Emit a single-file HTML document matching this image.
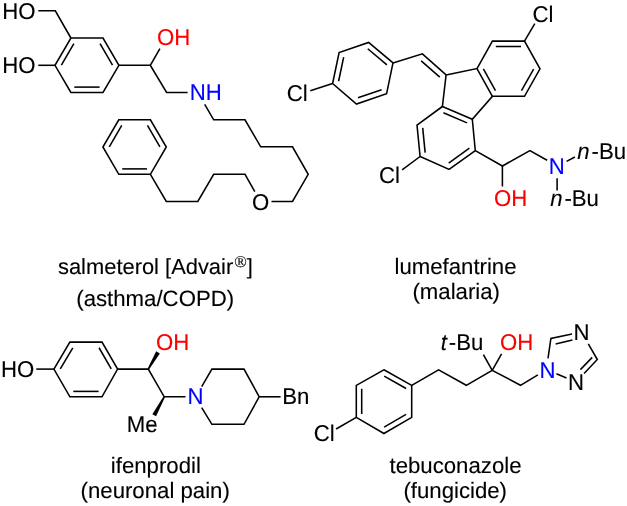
<!DOCTYPE html>
<html><head><meta charset="utf-8"><title>drugs</title>
<style>
html,body{margin:0;padding:0;background:#fff;}
svg{display:block;will-change:transform}
svg text{font-family:"Liberation Sans",sans-serif;font-size:22.2px;text-rendering:geometricPrecision;stroke-width:0.12px;stroke-linejoin:round;}
svg line,svg polyline,svg polygon{stroke:#000;stroke-width:1.55;fill:none;stroke-linecap:butt;stroke-linejoin:miter}
svg polygon.w{fill:#000;stroke:none}
</style></head><body>
<svg width="627" height="506" viewBox="0 0 627 506">
<rect x="0" y="0" width="627" height="506" fill="#fff" stroke="none"/>
<polygon points="70.90,38.00 103.00,38.00 118.90,65.30 103.00,92.50 70.90,92.50 55.00,65.30"/>
<line x1="61.38" y1="65.08" x2="73.86" y2="43.66" stroke-width="1.55"/>
<line x1="100.04" y1="43.66" x2="112.52" y2="65.08" stroke-width="1.55"/>
<line x1="99.60" y1="87.10" x2="74.30" y2="87.10" stroke-width="1.55"/>
<polyline points="70.90,38.00 55.30,10.80 38.30,10.80"/>
<text transform="translate(2.20 19.00) scale(1 1.03)" fill="#000" stroke="#000" text-anchor="start" >HO</text>
<line x1="55.00" y1="65.30" x2="38.30" y2="65.30" stroke-width="1.55"/>
<text transform="translate(2.20 73.00) scale(1 1.03)" fill="#000" stroke="#000" text-anchor="start" >HO</text>
<polyline points="118.90,65.30 150.30,65.30 166.60,92.50 187.60,92.50"/>
<line x1="150.30" y1="65.30" x2="159.90" y2="48.60" stroke-width="1.55"/>
<text transform="translate(157.10 45.30) scale(1 1.03)" fill="#ff0000" stroke="#ff0000" text-anchor="start" >OH</text>
<text transform="translate(189.70 100.00) scale(1 1.03)" fill="#0000ff" stroke="#0000ff" text-anchor="start" >NH</text>
<polyline points="204.70,104.40 213.70,119.80 245.00,119.80 260.70,146.80 292.50,146.80 308.20,174.30 292.50,201.50 271.50,201.50"/>
<text transform="translate(252.00 209.60) scale(1 1.03)" fill="#000" stroke="#000" text-anchor="start" >O</text>
<polyline points="254.80,191.70 245.00,174.30 213.70,174.30 197.80,201.50 166.30,201.50 150.40,174.30"/>
<polygon points="118.80,119.80 150.40,119.80 166.30,147.00 150.40,174.30 118.80,174.30 102.90,147.00"/>
<line x1="109.28" y1="146.79" x2="121.75" y2="125.46" stroke-width="1.55"/>
<line x1="147.45" y1="125.46" x2="159.92" y2="146.79" stroke-width="1.55"/>
<line x1="147.00" y1="168.90" x2="122.20" y2="168.90" stroke-width="1.55"/>
<polygon points="368.60,42.40 393.00,62.90 386.60,93.70 356.50,104.00 332.60,83.50 339.10,52.60"/>
<line x1="367.73" y1="48.72" x2="386.92" y2="64.85" stroke-width="1.55"/>
<line x1="381.63" y1="89.69" x2="357.97" y2="97.79" stroke-width="1.55"/>
<line x1="338.58" y1="81.28" x2="343.68" y2="57.04" stroke-width="1.55"/>
<line x1="332.60" y1="83.50" x2="310.30" y2="90.70" stroke-width="1.55"/>
<text transform="translate(286.80 101.00) scale(1 1.03)" fill="#000" stroke="#000" text-anchor="start" >Cl</text>
<polyline points="393.00,62.90 422.40,53.80 446.10,74.90"/>
<line x1="421.20" y1="60.80" x2="439.80" y2="77.20" stroke-width="1.55"/>
<polygon points="446.10,74.90 477.00,68.60 492.40,96.30 472.30,119.20 442.40,106.50"/>
<polyline points="477.00,68.60 492.40,41.10 524.50,41.10 540.00,68.80 524.50,96.30 492.40,96.30"/>
<line x1="495.80" y1="46.50" x2="521.10" y2="46.50" stroke-width="1.55"/>
<line x1="533.63" y1="69.11" x2="521.47" y2="90.69" stroke-width="1.55"/>
<line x1="495.47" y1="90.70" x2="483.37" y2="68.95" stroke-width="1.55"/>
<line x1="524.50" y1="41.10" x2="534.80" y2="23.60" stroke-width="1.55"/>
<text transform="translate(532.40 22.00) scale(1 1.03)" fill="#000" stroke="#000" text-anchor="start" >Cl</text>
<polyline points="472.30,119.20 475.30,150.60 449.10,169.40 420.10,156.50 417.00,125.00 442.40,106.50"/>
<line x1="443.42" y1="112.80" x2="467.06" y2="122.84" stroke-width="1.55"/>
<line x1="469.39" y1="148.19" x2="448.71" y2="163.03" stroke-width="1.55"/>
<line x1="425.14" y1="152.59" x2="422.71" y2="127.85" stroke-width="1.55"/>
<line x1="420.10" y1="156.50" x2="402.10" y2="169.90" stroke-width="1.55"/>
<text transform="translate(379.10 183.00) scale(1 1.03)" fill="#000" stroke="#000" text-anchor="start" >Cl</text>
<polyline points="475.30,150.60 502.40,166.00 529.90,150.60 547.10,160.30"/>
<line x1="502.40" y1="166.00" x2="502.40" y2="186.50" stroke-width="1.55"/>
<text transform="translate(494.00 206.00) scale(1 1.03)" fill="#ff0000" stroke="#ff0000" text-anchor="start" >OH</text>
<text transform="translate(548.70 174.00) scale(1 1.03)" fill="#0000ff" stroke="#0000ff" text-anchor="start" >N</text>
<line x1="566.60" y1="161.40" x2="574.90" y2="157.00" stroke-width="1.55"/>
<line x1="557.10" y1="178.30" x2="557.10" y2="190.50" stroke-width="1.55"/>
<text transform="translate(577.30 158.70) scale(1 1.03)" fill="#000" stroke="#000" text-anchor="start" ><tspan font-style="italic">n</tspan><tspan dx="1.9">-</tspan>Bu</text>
<text transform="translate(550.20 206.00) scale(1 1.03)" fill="#000" stroke="#000" text-anchor="start" ><tspan font-style="italic">n</tspan><tspan dx="1.9">-</tspan>Bu</text>
<polygon points="53.90,369.10 69.90,342.10 102.00,342.10 117.60,369.10 102.00,396.80 69.90,396.80"/>
<line x1="60.28" y1="368.93" x2="72.81" y2="347.78" stroke-width="1.55"/>
<line x1="99.03" y1="347.75" x2="111.22" y2="368.86" stroke-width="1.55"/>
<line x1="98.60" y1="391.40" x2="73.30" y2="391.40" stroke-width="1.55"/>
<line x1="53.90" y1="369.10" x2="36.30" y2="369.10" stroke-width="1.55"/>
<text transform="translate(1.00 377.00) scale(1 1.03)" fill="#000" stroke="#000" text-anchor="start" >HO</text>
<polyline points="117.60,369.10 148.30,369.10 164.20,396.80 185.50,396.80"/>
<polygon class="w" points="149.04,369.53 159.82,353.45 156.18,351.35 147.56,368.67"/>
<polygon class="w" points="163.45,396.40 152.35,414.30 156.05,416.30 164.95,397.20"/>
<text transform="translate(156.00 350.00) scale(1 1.03)" fill="#ff0000" stroke="#ff0000" text-anchor="start" >OH</text>
<text transform="translate(126.70 431.80) scale(1 1.03)" fill="#000" stroke="#000" text-anchor="start" >Me</text>
<text transform="translate(187.50 404.30) scale(1 1.03)" fill="#0000ff" stroke="#0000ff" text-anchor="start" >N</text>
<polyline points="201.70,386.60 211.90,369.10 244.00,369.10 259.20,396.80 244.00,424.30 211.90,424.30 201.70,407.60"/>
<line x1="259.20" y1="396.80" x2="280.60" y2="396.80" stroke-width="1.55"/>
<text transform="translate(282.30 404.40) scale(1 1.03)" fill="#000" stroke="#000" text-anchor="start" >Bn</text>
<polygon points="383.90,369.80 411.70,385.40 411.70,417.40 383.90,433.50 356.30,417.40 356.30,385.40"/>
<line x1="384.22" y1="376.17" x2="406.09" y2="388.45" stroke-width="1.55"/>
<line x1="406.05" y1="414.43" x2="384.14" y2="427.12" stroke-width="1.55"/>
<line x1="361.70" y1="414.00" x2="361.70" y2="388.80" stroke-width="1.55"/>
<line x1="356.30" y1="417.40" x2="336.10" y2="429.00" stroke-width="1.55"/>
<text transform="translate(313.80 441.40) scale(1 1.03)" fill="#000" stroke="#000" text-anchor="start" >Cl</text>
<polyline points="411.70,385.40 438.60,369.80 466.30,385.30 492.20,370.30 520.50,385.30 537.90,374.90"/>
<line x1="492.20" y1="370.30" x2="483.40" y2="354.60" stroke-width="1.55"/>
<line x1="492.20" y1="370.30" x2="501.60" y2="353.90" stroke-width="1.55"/>
<text transform="translate(440.80 350.00) scale(1 1.03)" fill="#000" stroke="#000" text-anchor="start" ><tspan font-style="italic">t</tspan><tspan dx="1.9">-</tspan>Bu</text>
<text transform="translate(500.10 350.00) scale(1 1.03)" fill="#ff0000" stroke="#ff0000" text-anchor="start" >OH</text>
<text transform="translate(539.40 377.80) scale(1 1.03)" fill="#0000ff" stroke="#0000ff" text-anchor="start" >N</text>
<text transform="translate(573.60 339.50) scale(1 1.03)" fill="#000" stroke="#000" text-anchor="start" >N</text>
<text transform="translate(568.00 389.80) scale(1 1.03)" fill="#000" stroke="#000" text-anchor="start" >N</text>
<polyline points="548.00,358.40 550.90,338.50 572.00,334.00"/>
<line x1="555.60" y1="343.90" x2="572.40" y2="339.90" stroke-width="1.55"/>
<polyline points="588.30,343.90 597.30,359.50 584.10,373.50"/>
<line x1="592.20" y1="357.40" x2="580.40" y2="369.60" stroke-width="1.55"/>
<line x1="556.40" y1="373.80" x2="566.50" y2="378.00" stroke-width="1.55"/>
<text transform="translate(58.00 274.40) scale(1 1.0)" fill="#000" stroke="#000" text-anchor="start" style="font-size:21.9px">salmeterol [Advair<tspan font-family="Liberation Serif" font-size="16.5" dx="1.0" dy="-7.2">®</tspan><tspan dy="7.2">]</tspan></text>
<text transform="translate(155.20 306.40) scale(1 1.0)" fill="#000" stroke="#000" text-anchor="middle" >(asthma/COPD)</text>
<text transform="translate(455.50 274.40) scale(1 1.0)" fill="#000" stroke="#000" text-anchor="middle" >lumefantrine</text>
<text transform="translate(456.20 299.30) scale(1 1.0)" fill="#000" stroke="#000" text-anchor="middle" >(malaria)</text>
<text transform="translate(155.80 473.20) scale(1 1.0)" fill="#000" stroke="#000" text-anchor="middle" >ifenprodil</text>
<text transform="translate(155.20 498.00) scale(1 1.0)" fill="#000" stroke="#000" text-anchor="middle" >(neuronal pain)</text>
<text transform="translate(455.50 473.20) scale(1 1.0)" fill="#000" stroke="#000" text-anchor="middle" >tebuconazole</text>
<text transform="translate(455.20 498.00) scale(1 1.0)" fill="#000" stroke="#000" text-anchor="middle" >(fungicide)</text>
</svg>
</body></html>
